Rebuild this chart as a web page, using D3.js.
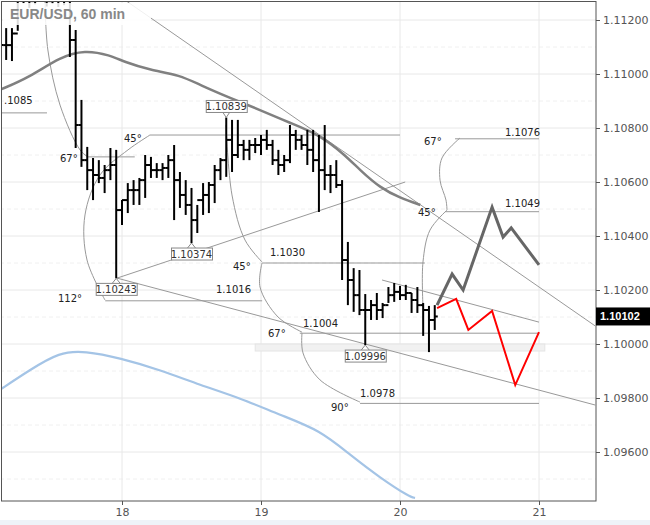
<!DOCTYPE html>
<html><head><meta charset="utf-8">
<script src="https://cdn.jsdelivr.net/npm/d3@7"></script>
<style>body{margin:0;background:#fff;font-family:Tahoma,"DejaVu Sans",sans-serif}</style>
</head><body>
<script>
// hourly bars, hour offsets from 18th 00:00
var startHour = -21;
var highs = [1.11290,1.11170,1.11170,1.11310,1.11330,1.11300,1.11320,1.11340,1.11300,1.11310,1.11330,1.11320,
  1.11300,1.11163,1.10904,1.10730,1.10689,1.10681,1.10663,1.10726,1.10719,
  1.10533,1.10596,1.10607,1.10615,1.10700,1.10693,1.10670,1.10670,1.10700,1.10737,1.10637,1.10607,1.10578,1.10515,1.10596,1.10600,1.10663,1.10689,
  1.10839,1.10830,1.10830,1.10756,1.10756,1.10763,1.10774,1.10793,1.10756,1.10719,1.10700,1.10811,1.10793,1.10774,1.10793,1.10793,1.10774,1.10811,1.10663,1.10681,
  1.10607,1.10378,1.10281,1.10274,1.10185,1.10163,1.10189,1.10152,1.10211,1.10226,1.10215,1.10219,1.10189,1.10211,1.10152,1.10141,1.10144];
var lows = [1.11052,1.11052,1.11048,1.11160,1.11262,1.11245,1.11258,1.11270,1.11250,1.11260,1.11248,1.11255,
  1.11063,1.10726,1.10656,1.10570,1.10533,1.10596,1.10559,1.10607,1.10243,
  1.10441,1.10485,1.10515,1.10515,1.10541,1.10615,1.10615,1.10607,1.10615,1.10459,1.10504,1.10478,1.10374,1.10411,1.10478,1.10485,1.10522,1.10607,
  1.10619,1.10637,1.10689,1.10681,1.10681,1.10707,1.10700,1.10719,1.10663,1.10626,1.10637,1.10670,1.10719,1.10719,1.10663,1.10637,1.10489,1.10570,1.10559,1.10578,
  1.10237,1.10144,1.10119,1.10107,1.09996,1.10089,1.10089,1.10096,1.10152,1.10156,1.10163,1.10163,1.10115,1.10115,1.10030,1.09970,1.10052];
var closes = [1.11107,1.11107,1.11150,1.11280,1.11300,1.11270,1.11290,1.11300,1.11270,1.11285,1.11290,1.11280,
  1.11126,1.10811,1.10681,1.10644,1.10626,1.10615,1.10644,1.10663,1.10496,
  1.10533,1.10570,1.10570,1.10607,1.10663,1.10644,1.10644,1.10652,1.10681,1.10607,1.10552,1.10515,1.10459,1.10533,1.10552,1.10589,1.10644,1.10681,
  1.10756,1.10700,1.10737,1.10719,1.10737,1.10737,1.10756,1.10737,1.10681,1.10663,1.10681,1.10774,1.10756,1.10737,1.10719,1.10681,1.10644,1.10626,1.10626,1.10589,
  1.10311,1.10237,1.10181,1.10126,1.10126,1.10144,1.10126,1.10144,1.10181,1.10193,1.10181,1.10189,1.10163,1.10144,1.10126,1.10089,1.10102];

var maDark = [[-21.1,1.10941],[-15.9,1.10989],[-10.7,1.11063],[-6.4,1.11089],[-2.1,1.11070],[0.5,1.11044],[4.8,1.11015],[10,1.10996],
  [13.5,1.10959],[18.7,1.10911],[23.8,1.10867],[29,1.10819],[34.2,1.10774],[38.5,1.10700],[41.1,1.10644],[44.6,1.10578],[48,1.10541],[51.5,1.10515]];
var maBlue = [[-21.1,1.09830],[-15.9,1.09904],[-10.8,1.09970],[-6.4,1.09974],[-0.3,1.09948],[6.6,1.09904],[13.5,1.09848],[20.4,1.09800],
  [27.3,1.09737],[34.2,1.09681],[39.4,1.09589],[44.6,1.09504],[49.7,1.09433],[50.6,1.09430]];
var forecastUp = [[54.4,1.10144],[57,1.10259],[58.9,1.10200],[63.9,1.10507],[65.8,1.10396],[67.2,1.10430],[72,1.10293]];
var forecastDown = [[54.4,1.10133],[57.7,1.10167],[59.8,1.10052],[63.9,1.10122],[67.9,1.09848],[72,1.10044]];

var trendLines = [[[0.5,1.11274],[81.7,1.10067]],[[-0.86,1.10244],[81.7,1.09774]],[[-0.86,1.10244],[48.9,1.10600]],[[44.9,1.10237],[72,1.10081]]];
var levels = [[-21.1,-12.95,1.10856],[4.8,48,1.10774],[-5.9,2.2,1.10693],[57.5,72,1.1076],[55.8,72,1.1049],[24.2,52.3,1.1030],[-2.9,24.2,1.1016],[30.7,72,1.1004],[41.1,72,1.0978]];
var arcs = [
  [[-13.3,1.11274],[-12.8,1.11089],[-10.7,1.10885],[-7.25,1.10719],[-5.9,1.10693]],
  [[4.83,1.10774],[1.04,1.10719],[-3.8,1.10626],[-6.39,1.10478],[-6.04,1.10311],[-2.94,1.10163]],
  [[17.96,1.10811],[18.99,1.10552],[21.24,1.10385],[24.17,1.10304]],
  [[24.17,1.10300],[23.83,1.10211],[26.94,1.10100],[31.08,1.10044]],
  [[31.08,1.10041],[31.25,1.09967],[34.19,1.09867],[41.09,1.09785]],
  [[58.36,1.10763],[55.25,1.10689],[54.91,1.10607],[55.94,1.10533],[56.12,1.10496]],
  [[56.12,1.10496],[53.18,1.10422],[51.97,1.10304],[51.97,1.10137]]];
var levelLabels = [[".1085",4,104],["45°",124,142],["67°",60,162],["67°",424,145],["1.1076",505,136],["45°",418,216],["1.1049",505,207],
  ["1.1030",270,256],["45°",233,270],["1.1016",216,293],["112°",58,302],["1.1004",303,327],["67°",268,337],["1.0978",360,397],["90°",331,411]];
var extremes = [[18,"high"],[12,"low"],[-1,"low"],[42,"low"]];
var priceTicks = [1.096,1.098,1.100,1.102,1.104,1.106,1.108,1.110,1.112];
var dayTicks = [0,24,48,72], dayLabels = ["18","19","20","21"];
var lastPrice = 1.10102;

var W = 650, H = 525, pw = 596, ph = 501;
var svg = d3.select("body").append("svg").attr("width", W).attr("height", H);
var x = d3.scaleLinear().domain([-122/5.7917, (pw-122)/5.7917]).range([0, pw]);
var y = d3.scaleLinear().domain([1.1, 1.101]).range([344, 317]);

svg.append("rect").attr("x",0).attr("y",520).attr("width",W).attr("height",5).attr("fill","#eef3f8");
svg.append("defs").append("clipPath").attr("id","c").append("rect").attr("x",2).attr("y",2).attr("width",pw-2).attr("height",ph-2);
var g = svg.append("g").attr("clip-path","url(#c)");

// grid
d3.range(1.095, 1.1135, 0.001).forEach(function(p, i) {
  g.append("line").attr("x1",0).attr("x2",pw).attr("y1",y(p)).attr("y2",y(p))
   .attr("stroke", i%2 ? "#e8e8e8" : "#f0f0f0").attr("stroke-dasharray", i%2 ? null : "4,3");
});
dayTicks.forEach(function(t){ g.append("line").attr("x1",x(t)).attr("x2",x(t)).attr("y1",0).attr("y2",ph).attr("stroke","#e8e8e8"); });

var line = d3.line().x(d=>x(d[0])).y(d=>y(d[1]));
var smooth = d3.line().x(d=>x(d[0])).y(d=>y(d[1])).curve(d3.curveBasis);
var arcLine = d3.line().x(d=>x(d[0])).y(d=>y(d[1])).curve(d3.curveCatmullRom);

g.append("rect").attr("x",x(23)).attr("width",x(73)-x(23)).attr("y",y(1.1)).attr("height",y(1.09974)-y(1.1))
 .attr("fill","#f1f1f1").attr("stroke","#e4e4e4");

g.append("path").attr("d",smooth(maBlue)).attr("fill","none").attr("stroke","#a4c4e6").attr("stroke-width",2.2);

trendLines.forEach(function(l){ g.append("path").attr("d",line(l)).attr("stroke","#999").attr("fill","none"); });
levels.forEach(function(l){ g.append("line").attr("x1",x(l[0])).attr("x2",x(l[1])).attr("y1",y(l[2])).attr("y2",y(l[2])).attr("stroke","#999"); });
arcs.forEach(function(a){ g.append("path").attr("d",arcLine(a)).attr("stroke","#999").attr("fill","none"); });

g.append("path").attr("d",smooth(maDark)).attr("fill","none").attr("stroke","#808080").attr("stroke-width",2.5);

levelLabels.forEach(function(l){ g.append("text").attr("x",l[1]).attr("y",l[2]).text(l[0]).attr("font-size",10).attr("fill","#222"); });

// OHLC bars
var bars = highs.map(function(h, i){ return {t:startHour+i, h:h, l:lows[i], c:closes[i], o: i ? closes[i-1] : closes[0]}; });
var bg = g.append("g").attr("stroke","#000").attr("stroke-width",2);
bars.forEach(function(b){
  var bx = x(b.t);
  bg.append("line").attr("x1",bx).attr("x2",bx).attr("y1",y(b.h)).attr("y2",y(b.l));
  bg.append("line").attr("x1",bx-3).attr("x2",bx).attr("y1",y(b.o)).attr("y2",y(b.o));
  bg.append("line").attr("x1",bx).attr("x2",bx+3).attr("y1",y(b.c)).attr("y2",y(b.c));
});

g.append("path").attr("d",line(forecastUp)).attr("fill","none").attr("stroke","#666").attr("stroke-width",3);
g.append("path").attr("d",line(forecastDown)).attr("fill","none").attr("stroke","#f00").attr("stroke-width",2);

extremes.forEach(function(e){
  var b = bars[e[0]-startHour], v = e[1]=="high" ? b.h : b.l, bx = x(b.t), by = y(v);
  var top = e[1]=="high" ? by-17 : by+5;
  g.append("path").attr("d", e[1]=="high" ? "M"+(bx-4)+","+(by-6)+"L"+bx+","+by+"L"+(bx+4)+","+(by-6) : "M"+(bx-4)+","+(by+5)+"L"+bx+","+by+"L"+(bx+4)+","+(by+5))
   .attr("fill","#fff").attr("stroke","#888");
  g.append("rect").attr("x",bx-20).attr("y",top).attr("width",41).attr("height",12).attr("fill","#fff").attr("stroke","#888");
  g.append("text").attr("x",bx).attr("y",top+10).attr("text-anchor","middle").attr("font-size",10).attr("fill","#333").text(v.toFixed(5));
});

// title
svg.append("rect").attr("x",3).attr("y",3).attr("width",148).attr("height",22).attr("fill","#fff").attr("opacity",0.85);
svg.append("text").attr("x",10).attr("y",19).text("EUR/USD, 60 min").attr("font-size",14).attr("font-weight","bold").attr("fill","#888")
  .attr("font-family","Arial,'Liberation Sans',sans-serif");

// frame
svg.append("rect").attr("x",1.5).attr("y",1.5).attr("width",pw-1.5).attr("height",ph-1.5).attr("fill","none").attr("stroke","#555");

// axes
var ya = svg.append("g").attr("transform","translate("+pw+",0)")
  .call(d3.axisRight(y).tickValues(priceTicks).tickFormat(d3.format(".5f")).tickSize(4));
ya.select(".domain").remove();
ya.selectAll("text").attr("font-size",11).attr("fill","#555").attr("font-family","Tahoma,'DejaVu Sans',sans-serif");
ya.selectAll("line").attr("stroke","#555");
var xa = svg.append("g").attr("transform","translate(0,"+ph+")")
  .call(d3.axisBottom(x).tickValues(dayTicks).tickFormat((d,i)=>dayLabels[i]).tickSize(4));
xa.select(".domain").remove();
xa.selectAll("text").attr("font-size",11).attr("fill","#555").attr("font-family","Tahoma,'DejaVu Sans',sans-serif");
xa.selectAll("line").attr("stroke","#555");

svg.append("rect").attr("x",pw).attr("y",y(lastPrice)-9).attr("width",W-pw).attr("height",18).attr("fill","#000");
svg.append("text").attr("x",pw+4).attr("y",y(lastPrice)+4).text(lastPrice.toFixed(5)).attr("fill","#fff")
  .attr("font-size",11).attr("font-weight","bold").attr("font-family","'Liberation Sans',Arial,sans-serif");
</script>
</body></html>
